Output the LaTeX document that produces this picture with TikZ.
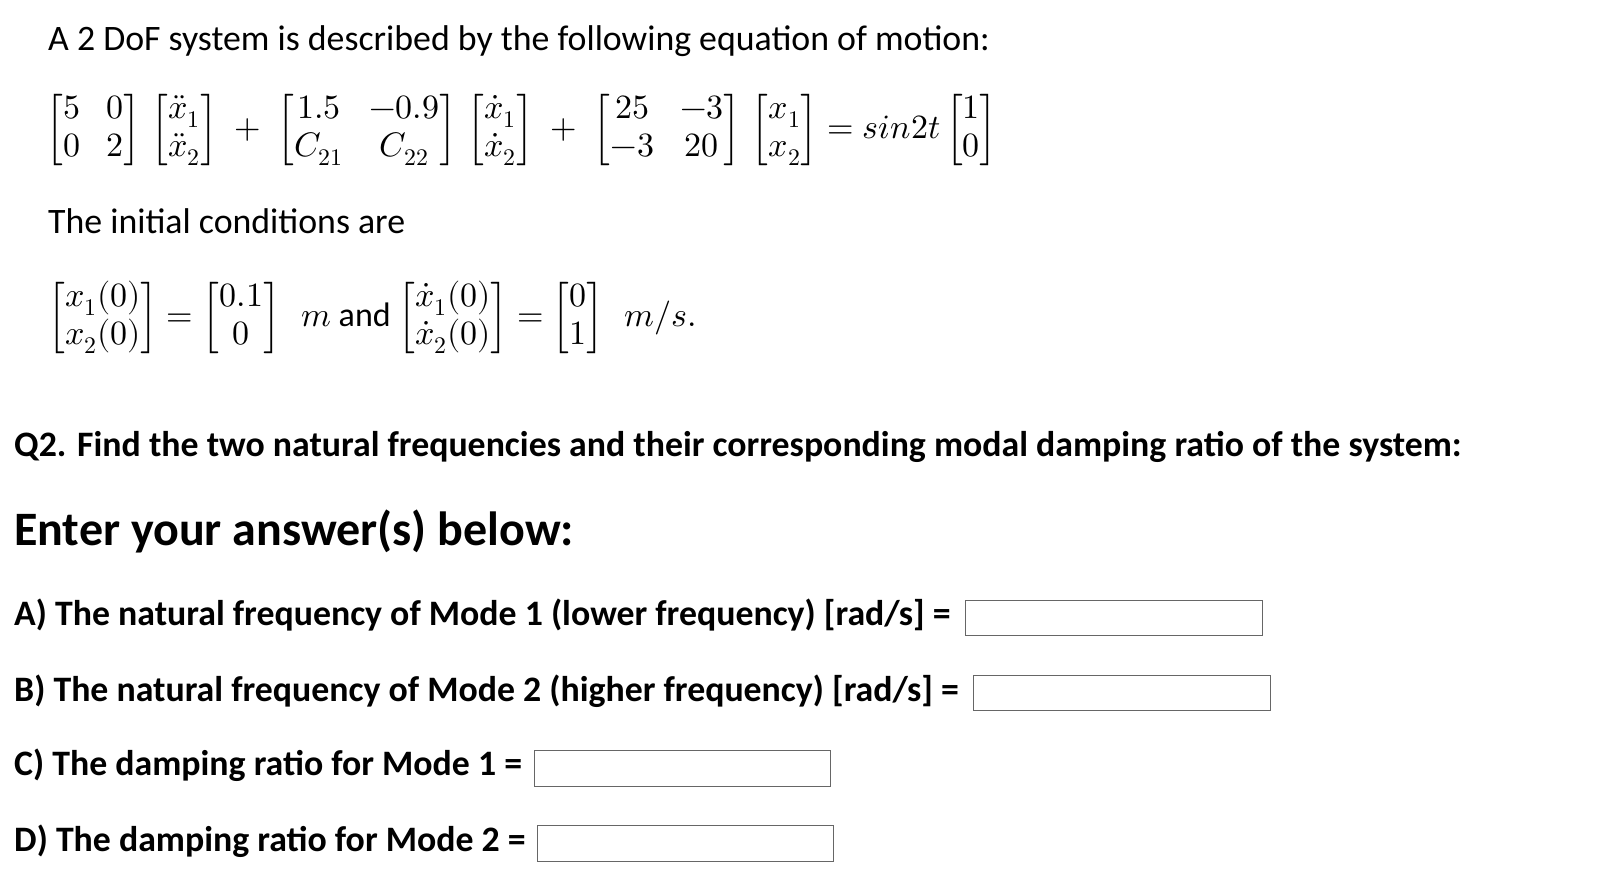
\documentclass[tikz,border=0pt]{standalone}
\usepackage{amsmath}
\usepackage{fontspec}
\usepackage{unicode-math}
\setmainfont{Carlito}
\setmathfont{Latin Modern Math}
\begin{document}
\begin{tikzpicture}[x=1pt,y=-1pt,
  txt/.style={anchor=base west,inner sep=0pt,font=\fontsize{35.8}{40}\selectfont},
  bq/.style={anchor=base west,inner sep=0pt,font=\fontsize{35.8}{40}\selectfont\bfseries},
  eq/.style={anchor=west,inner sep=0pt,font=\fontsize{34}{38}\selectfont\setlength\arraycolsep{13pt}},
  ansbox/.style={draw=black!60,line width=1pt}]
\node[eq] (e1) at (46,130) {$\begin{bmatrix}5&0\\0&2\end{bmatrix}\,\begin{bmatrix}\ddot{x}_1\\ \ddot{x}_2\end{bmatrix}\;+\;\begin{bmatrix}1.5&-0.9\\C_{21}&C_{22}\end{bmatrix}\,\begin{bmatrix}\dot{x}_1\\ \dot{x}_2\end{bmatrix}\;+\;\begin{bmatrix}25&-3\\-3&20\end{bmatrix}\,\begin{bmatrix}x_1\\ x_2\end{bmatrix}=sin2t\begin{bmatrix}1\\0\end{bmatrix}$};
\node[txt] (t1) at (48,50) {A 2 DoF system is described by the following equation of motion:};
\node[txt] (t2) at (48,233) {The initial conditions are};
\node[eq,font=\fontsize{34}{38}\selectfont] (e2) at (48,318) {$\begin{bmatrix}x_1(0)\\x_2(0)\end{bmatrix}=\begin{bmatrix}0.1\\0\end{bmatrix}\ \ m$ and $\begin{bmatrix}\dot{x}_1(0)\\ \dot{x}_2(0)\end{bmatrix}=\begin{bmatrix}0\\1\end{bmatrix}\ \ m/s.$};
\node[bq] (q2) at (14,456) {Q2. Find the two natural frequencies and their corresponding modal damping ratio of the system:};
\node[anchor=base west,inner sep=0pt,font=\fontsize{48}{56}\selectfont\bfseries] (ent) at (14,545) {Enter your answer(s) below:};
\node[bq] (qa) at (14,625) {A) The natural frequency of Mode 1 (lower frequency) [rad/s] =};
\draw[ansbox] (965,600) rectangle (1262,635);
\node[bq] (qb) at (14,701) {B) The natural frequency of Mode 2 (higher frequency) [rad/s] =};
\draw[ansbox] (973,675) rectangle (1270,710);
\node[bq] (qc) at (14,775) {C) The damping ratio for Mode 1 =};
\draw[ansbox] (534,750) rectangle (830,786);
\node[bq] (qd) at (14,851) {D) The damping ratio for Mode 2 =};
\draw[ansbox] (537,825) rectangle (833,861);
\pgfresetboundingbox
\useasboundingbox (0,0) rectangle (1599,894);
\end{tikzpicture}
\end{document}
